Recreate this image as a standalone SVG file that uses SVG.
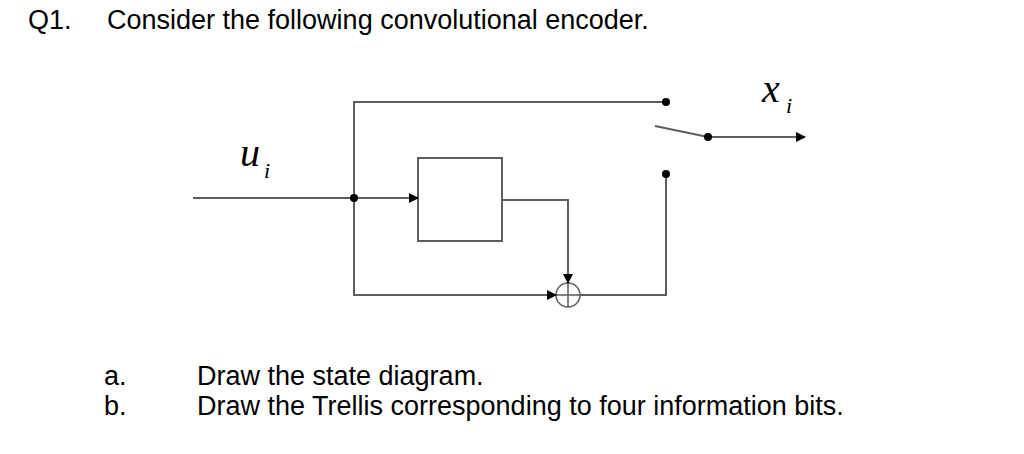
<svg xmlns="http://www.w3.org/2000/svg" width="1024" height="454" viewBox="0 0 1024 454">
<style>
.t{font-family:"Liberation Sans",Arial,sans-serif;font-size:27px;fill:#000}
.v{font-family:"Liberation Serif","Times New Roman",serif;font-style:italic;fill:#000}
.w{fill:none;stroke:#5e5e5e;stroke-width:2}
</style>
<defs><marker id="a" markerWidth="10" markerHeight="10" refX="9" refY="5" orient="auto" markerUnits="userSpaceOnUse"><path d="M0,0L10,5L0,10z" fill="#000"/></marker></defs>
<rect width="1024" height="454" fill="#fff"/>
<text class="t" x="28" y="29">Q1.</text>
<text class="t" x="107" y="29">Consider the following convolutional encoder.</text>
<text class="t" x="104" y="385">a.</text>
<text class="t" x="197" y="385">Draw the state diagram.</text>
<text class="t" x="104" y="415">b.</text>
<text class="t" x="197" y="415">Draw the Trellis corresponding to four information bits.</text>
<g id="register"><rect x="418" y="158" width="84" height="83" fill="#fff" stroke="#5e5e5e" stroke-width="2"/></g>
<g id="xor"><circle cx="568" cy="295" r="12" fill="#fff" stroke="#5e5e5e" stroke-width="1.5"/><path d="M556,295H580M568,283V307" stroke="#5e5e5e" stroke-width="1.5"/></g>
<g id="labels"><text class="v" x="240" y="166" font-size="40">u</text><text class="v" x="264" y="178" font-size="22">i</text>
<text class="v" x="762" y="102" font-size="40">x</text><text class="v" x="786" y="113" font-size="22">i</text></g>
<g id="connectors">
<path class="w" d="M193,198H418" marker-end="url(#a)"/>
<path class="w" d="M666,102H354V295H556" marker-end="url(#a)"/>
<path class="w" d="M502,200H568V283" marker-end="url(#a)"/>
<path class="w" d="M580,295H666V174"/>
<path class="w" d="M655,126L708,137"/>
<path class="w" d="M708,137H805" marker-end="url(#a)"/>
<circle cx="354" cy="198" r="4"/><circle cx="666" cy="102" r="4"/><circle cx="666" cy="174" r="4"/><circle cx="708" cy="137" r="4"/>
</g>
</svg>
